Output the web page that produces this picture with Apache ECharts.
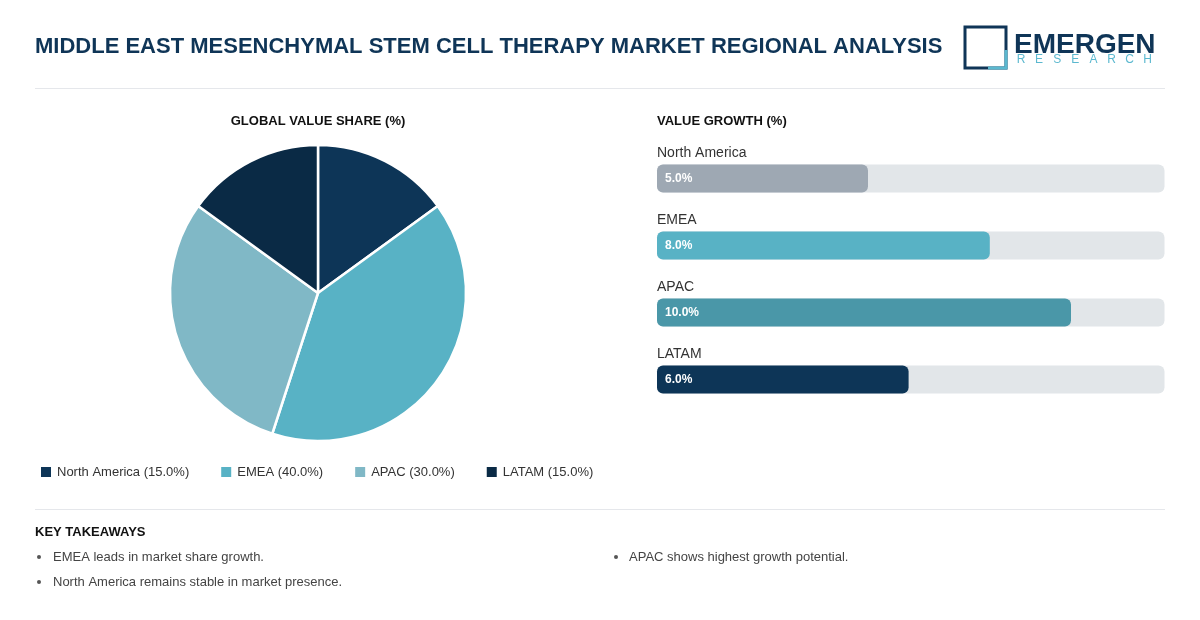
<!DOCTYPE html>
<html>
<head>
<meta charset="utf-8">
<script src="https://cdn.jsdelivr.net/npm/echarts@6/dist/echarts.min.js"></script>
<style>
html,body{margin:0;padding:0;background:#fff;}
#c{width:1200px;height:620px;}
</style>
</head>
<body>
<div id="c"></div>
<script>
// ---- data ----
const titleText = 'MIDDLE EAST MESENCHYMAL STEM CELL THERAPY MARKET REGIONAL ANALYSIS';
const regions = ['North America', 'EMEA', 'APAC', 'LATAM'];
const shareValues = [15, 40, 30, 15];
const growthValues = [5, 8, 10, 6];
const growthMax = 12.5;
const pieColors = ['#0d3557', '#58b2c5', '#80b8c6', '#0a2a45'];
const barColors = ['#9ea8b3', '#58b2c5', '#4a97a8', '#0d3557'];
const takeawaysLeft = ['EMEA leads in market share growth.', 'North America remains stable in market presence.'];
const takeawaysRight = ['APAC shows highest growth potential.'];

const FONT = '"Liberation Sans", Arial, Helvetica, sans-serif';
const chart = echarts.init(document.getElementById('c'), null, {renderer: 'canvas'});

const graphics = [
  {type:'text', x:35, y:47, style:{text:titleText, font:'bold 22px ' + FONT, fill:'#0f3557', align:'left', verticalAlign:'middle'}},
  {type:'rect', shape:{x:35, y:88, width:1130, height:1}, style:{fill:'#e5e7eb'}},
  {type:'rect', shape:{x:35, y:509, width:1130, height:1}, style:{fill:'#e5e7eb'}},
  {type:'text', x:318, y:121, style:{text:'GLOBAL VALUE SHARE (%)', font:'bold 13px ' + FONT, fill:'#111', align:'center', verticalAlign:'middle'}},
  {type:'text', x:657, y:121, style:{text:'VALUE GROWTH (%)', font:'bold 13px ' + FONT, fill:'#111', align:'left', verticalAlign:'middle'}},
  {type:'text', x:35, y:532, style:{text:'KEY TAKEAWAYS', font:'bold 13px ' + FONT, fill:'#111', align:'left', verticalAlign:'middle'}},
  // logo
  {type:'rect', shape:{x:965, y:27, width:41, height:41}, style:{fill:'none', stroke:'#0f3557', lineWidth:3}},
  {type:'polyline', shape:{points:[[1006,50],[1006,68],[988,68]]}, style:{fill:'none', stroke:'#5bb8cf', lineWidth:3}},
  {type:'text', x:1014, y:45, style:{text:'EMERGEN', font:'bold 28px ' + FONT, fill:'#0f3557', align:'left', verticalAlign:'middle'}}
];
'RESEARCH'.split('').forEach((ch, i) => {
  graphics.push({type:'text', x:1021 + i*18.1, y:60, style:{text:ch, font:'12px ' + FONT, fill:'#5bb8cf', align:'center', verticalAlign:'middle'}});
});
takeawaysLeft.forEach((t, i) => {
  graphics.push({type:'circle', shape:{cx:39, cy:557 + i*25, r:2}, style:{fill:'#555'}});
  graphics.push({type:'text', x:53, y:557 + i*25, style:{text:t, font:'13px ' + FONT, fill:'#444', align:'left', verticalAlign:'middle'}});
});
takeawaysRight.forEach((t, i) => {
  graphics.push({type:'circle', shape:{cx:616, cy:557 + i*25, r:2}, style:{fill:'#555'}});
  graphics.push({type:'text', x:629, y:557 + i*25, style:{text:t, font:'13px ' + FONT, fill:'#444', align:'left', verticalAlign:'middle'}});
});

function renderBar(params, api) {
  const idx = api.value(0);
  const val = api.value(1);
  const base = api.coord([0, idx]);
  const full = api.coord([growthMax, idx]);
  const end = api.coord([val, idx]);
  const h = 28;
  const y0 = base[1] - h / 2;
  const pad = 8; // fill box padding
  return {
    type: 'group',
    children: [
      {type:'rect', shape:{x:base[0], y:y0, width:full[0] - base[0], height:h, r:6}, style:{fill:'#e2e6e9'}},
      {type:'rect', shape:{x:base[0], y:y0, width:end[0] - base[0] + pad, height:h, r:6}, style:{fill:barColors[idx]}},
      {type:'text', x:base[0] + pad, y:base[1], style:{text:val.toFixed(1) + '%', font:'bold 12px ' + FONT, fill:'#fff', align:'left', verticalAlign:'middle'}}
    ]
  };
}

chart.setOption({
  animation: false,
  textStyle: {fontFamily: FONT},
  graphic: graphics,
  legend: {
    data: regions,
    left: 39, top: 465, padding: 0,
    itemWidth: 12, itemHeight: 12, itemGap: 30,
    icon: 'rect',
    textStyle: {fontSize: 13, color: '#333', fontFamily: FONT},
    formatter: name => name + ' (' + shareValues[regions.indexOf(name)].toFixed(1) + '%)'
  },
  grid: {left: 657, right: 35.5, top: 145, height: 268},
  xAxis: {type:'value', min:0, max:growthMax, show:false},
  yAxis: {
    type:'category', data: regions, inverse: true,
    axisLine:{show:false}, axisTick:{show:false},
    axisLabel:{inside:true, margin:0, align:'left', verticalAlign:'bottom', padding:[0,0,18,0], fontSize:14, color:'#333', fontFamily: FONT}
  },
  series: [
    {
      type:'pie', center:[318, 293], radius:148, startAngle:90, clockwise:true,
      silent:true, label:{show:false}, labelLine:{show:false},
      itemStyle:{borderColor:'#fff', borderWidth:2.5},
      data: regions.map((r, i) => ({name:r, value:shareValues[i], itemStyle:{color:pieColors[i]}}))
    },
    {
      type:'custom', silent:true, renderItem: renderBar,
      encode:{x:1, y:0},
      data: growthValues.map((v, i) => [i, v])
    }
  ]
});
</script>
</body>
</html>
